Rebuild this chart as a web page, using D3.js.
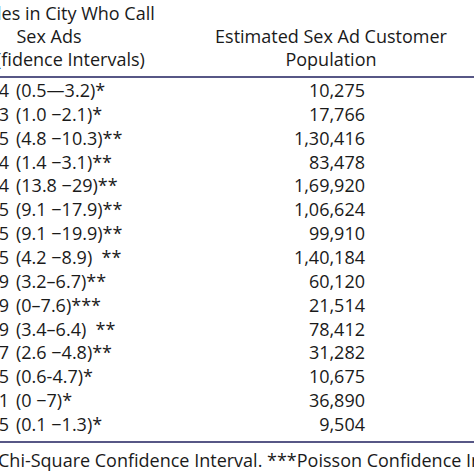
<!DOCTYPE html>
<html><head><meta charset="utf-8">
<script src="https://cdn.jsdelivr.net/npm/d3@7"></script>
<style>body{margin:0;background:#fff}svg{display:block}</style>
</head><body>
<svg id="t" width="474" height="474"></svg>
<script>
const lead = ['4','3','5','4','4','5','5','5','9','9','9','7','5','1','5']
const ci = ['(0.5—3.2)*','(1.0 −2.1)*','(4.8 −10.3)**','(1.4 −3.1)**','(13.8 −29)**','(9.1 −17.9)**',
  '(9.1 −19.9)**','(4.2 −8.9)  **','(3.2–6.7)**','(0–7.6)***','(3.4–6.4)  **','(2.6 −4.8)**',
  '(0.6-4.7)*','(0 −7)*','(0.1 −1.3)*']
const population = ['10,275','17,766','1,30,416','83,478','1,69,920','1,06,624','99,910','1,40,184',
  '60,120','21,514','78,412','31,282','10,675','36,890','9,504']
const rows = d3.range(ci.length)

const svg = d3.select('#t')
const font = "'Open Sans', sans-serif"
const y = d3.scaleBand().domain(rows).range([79, 437])

const txt = (x, yy, s, anchor = 'start') => svg.append('text')
  .attr('x', x).attr('y', yy).attr('text-anchor', anchor)
  .attr('font-family', font).attr('font-size', 18).attr('fill', '#1a1a1a')
  .attr('xml:space', 'preserve').text(s)

txt(-3, 20, 'les in City Who Call')
txt(49, 43, 'Sex Ads', 'middle')
txt(-4, 66, '(fidence Intervals)')
txt(331, 43, 'Estimated Sex Ad Customer', 'middle')
txt(331, 66, 'Population', 'middle')

svg.append('line').attr('x1', 0).attr('x2', 474).attr('y1', 77).attr('y2', 77)
  .attr('stroke', '#1f1f5e').attr('stroke-width', 1.6)
svg.append('line').attr('x1', 0).attr('x2', 474).attr('y1', 442).attr('y2', 442)
  .attr('stroke', '#1f1f5e').attr('stroke-width', 1.6)

rows.forEach(i => {
  const yy = y(i) + y.bandwidth() / 2 + 6
  txt(9, yy, lead[i], 'end')
  txt(16, yy, ci[i])
  txt(365, yy, population[i], 'end')
})

txt(-2, 467, 'Chi-Square Confidence Interval. ***Poisson Confidence In')
</script>
</body></html>
